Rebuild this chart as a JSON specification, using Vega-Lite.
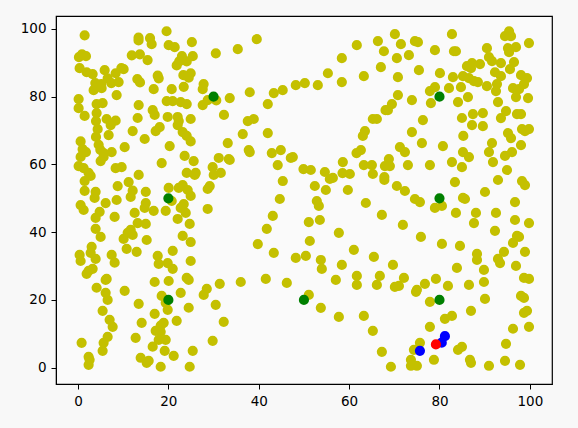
{"$schema":"https://vega.github.io/schema/vega-lite/v6.json","width":496,"height":368,"autosize":{"type":"none"},"padding":{"left":56,"top":16,"right":26,"bottom":44},"background":"#f8f8f8","view":{"fill":"#fafafa","stroke":"#000000","strokeWidth":1.2},"config":{"font":"DejaVu Sans"},
"data":{"values":[
{"x":1.47,"y":98.1,"s":"a"},{"x":13.4,"y":97.4,"s":"a"},{"x":13.4,"y":96.6,"s":"a"},{"x":15.94,"y":97.25,"s":"a"},{"x":16.3,"y":95.5,"s":"a"},{"x":19.6,"y":99.3,"s":"a"},{"x":20.07,"y":95.2,"s":"a"},{"x":21.4,"y":94.6,"s":"a"},{"x":25.2,"y":96.1,"s":"a"},{"x":30.5,"y":92.8,"s":"a"},{"x":0.21,"y":91.65,"s":"a"},{"x":0.88,"y":92.5,"s":"a"},{"x":1.76,"y":91.95,"s":"a"},{"x":11.9,"y":92.2,"s":"a"},{"x":13.7,"y":92.5,"s":"a"},{"x":15.4,"y":90.8,"s":"a"},{"x":23,"y":91.95,"s":"a"},{"x":25.4,"y":91.95,"s":"a"},{"x":24.06,"y":90.4,"s":"a"},{"x":22.4,"y":90.4,"s":"a"},{"x":21.84,"y":89.2,"s":"a"},{"x":0.36,"y":88.4,"s":"a"},{"x":1.91,"y":87.2,"s":"a"},{"x":3.24,"y":86.65,"s":"a"},{"x":5.9,"y":87.8,"s":"a"},{"x":9.59,"y":88.4,"s":"a"},{"x":10.1,"y":88.1,"s":"a"},{"x":8.33,"y":86.9,"s":"a"},{"x":6.56,"y":85.4,"s":"a"},{"x":3.83,"y":84,"s":"a"},{"x":5.16,"y":83.7,"s":"a"},{"x":7.37,"y":84,"s":"a"},{"x":8.99,"y":84.3,"s":"a"},{"x":3.46,"y":81.9,"s":"a"},{"x":5.23,"y":82.5,"s":"a"},{"x":13.13,"y":85.2,"s":"a"},{"x":13.72,"y":84.2,"s":"a"},{"x":17.64,"y":86.2,"s":"a"},{"x":17.86,"y":85.4,"s":"a"},{"x":23.32,"y":86.35,"s":"a"},{"x":24.94,"y":86.9,"s":"a"},{"x":24.5,"y":85.6,"s":"a"},{"x":16.75,"y":82.2,"s":"a"},{"x":20.74,"y":82.2,"s":"a"},{"x":23.4,"y":82.9,"s":"a"},{"x":27.8,"y":83.7,"s":"a"},{"x":27.6,"y":82.2,"s":"a"},{"x":8.55,"y":80.45,"s":"a"},{"x":0.14,"y":79.3,"s":"a"},{"x":0.14,"y":76.6,"s":"a"},{"x":1.47,"y":74.3,"s":"a"},{"x":4.12,"y":77.8,"s":"a"},{"x":5.45,"y":78.1,"s":"a"},{"x":4.12,"y":75.15,"s":"a"},{"x":13.43,"y":77.5,"s":"a"},{"x":19.63,"y":78.7,"s":"a"},{"x":20.96,"y":78.7,"s":"a"},{"x":22.73,"y":78.4,"s":"a"},{"x":24.06,"y":77.8,"s":"a"},{"x":27.6,"y":77.5,"s":"a"},{"x":28.7,"y":79,"s":"a"},{"x":30.6,"y":78.9,"s":"a"},{"x":16.53,"y":76,"s":"a"},{"x":16.97,"y":74.6,"s":"a"},{"x":32.3,"y":74.6,"s":"a"},{"x":13.2,"y":73.7,"s":"a"},{"x":19.85,"y":74,"s":"a"},{"x":22.06,"y":74,"s":"a"},{"x":24.94,"y":73.4,"s":"a"},{"x":3.98,"y":72.8,"s":"a"},{"x":6.34,"y":73.4,"s":"a"},{"x":8.33,"y":72.9,"s":"a"},{"x":7.23,"y":71.6,"s":"a"},{"x":22.3,"y":72.8,"s":"a"},{"x":22.06,"y":71.6,"s":"a"},{"x":4.35,"y":70.4,"s":"a"},{"x":12.1,"y":69.85,"s":"a"},{"x":18.08,"y":71,"s":"a"},{"x":17.19,"y":69.85,"s":"a"},{"x":23.17,"y":69.55,"s":"a"},{"x":24.06,"y":68.4,"s":"a"},{"x":6.78,"y":68.65,"s":"a"},{"x":3.98,"y":68.1,"s":"a"},{"x":14.76,"y":67.5,"s":"a"},{"x":0.58,"y":66.8,"s":"a"},{"x":24.94,"y":66.8,"s":"a"},
{"x":1.02,"y":64.5,"s":"a"},{"x":1.76,"y":63.65,"s":"a"},{"x":0.58,"y":62.2,"s":"a"},{"x":4.57,"y":65.8,"s":"a"},{"x":4.94,"y":64.3,"s":"a"},{"x":5.67,"y":63.35,"s":"a"},{"x":5.67,"y":62.2,"s":"a"},{"x":5.01,"y":61,"s":"a"},{"x":7.45,"y":63.65,"s":"a"},{"x":10.33,"y":65.1,"s":"a"},{"x":20.29,"y":65.4,"s":"a"},{"x":23.6,"y":62.5,"s":"a"},{"x":25.6,"y":61,"s":"a"},{"x":31.15,"y":61.9,"s":"a"},{"x":18.52,"y":60.4,"s":"a"},{"x":0.14,"y":59.5,"s":"a"},{"x":1.25,"y":58.9,"s":"a"},{"x":2.35,"y":57.5,"s":"a"},{"x":2.8,"y":56.6,"s":"a"},{"x":1.47,"y":55.1,"s":"a"},{"x":8.33,"y":58.9,"s":"a"},{"x":9.66,"y":59.2,"s":"a"},{"x":13.43,"y":56.9,"s":"a"},{"x":29.8,"y":59.2,"s":"a"},{"x":24.06,"y":57.5,"s":"a"},{"x":26.05,"y":57.5,"s":"a"},{"x":25.83,"y":56.9,"s":"a"},{"x":30.04,"y":56.9,"s":"a"},{"x":31.6,"y":57.5,"s":"a"},{"x":11.21,"y":54.8,"s":"a"},{"x":8.78,"y":53.6,"s":"a"},{"x":1.47,"y":52.2,"s":"a"},{"x":3.9,"y":51.9,"s":"a"},{"x":3.68,"y":50.1,"s":"a"},{"x":12.1,"y":52.25,"s":"a"},{"x":11.66,"y":50.4,"s":"a"},{"x":15,"y":51.9,"s":"a"},{"x":20.07,"y":53.05,"s":"a"},{"x":22.3,"y":53.05,"s":"a"},{"x":23.17,"y":53.9,"s":"a"},{"x":24.28,"y":52.45,"s":"a"},{"x":24.94,"y":50.7,"s":"a"},{"x":29.15,"y":53.6,"s":"a"},{"x":28.7,"y":52.75,"s":"a"},{"x":8.55,"y":49.5,"s":"a"},{"x":6.12,"y":48.6,"s":"a"},{"x":0.58,"y":48,"s":"a"},{"x":1.25,"y":46.55,"s":"a"},{"x":15,"y":48.6,"s":"a"},{"x":14.76,"y":47.15,"s":"a"},{"x":16.75,"y":46.3,"s":"a"},{"x":20.74,"y":49.2,"s":"a"},{"x":19.41,"y":46.3,"s":"a"},{"x":23.4,"y":48.3,"s":"a"},{"x":22.73,"y":47.15,"s":"a"},{"x":23.84,"y":45.7,"s":"a"},{"x":28.7,"y":46.85,"s":"a"},{"x":4.79,"y":46,"s":"a"},{"x":3.9,"y":44.2,"s":"a"},{"x":8.11,"y":44.5,"s":"a"},{"x":12.54,"y":45.7,"s":"a"},{"x":22.06,"y":43.9,"s":"a"},{"x":24.72,"y":42.45,"s":"a"},{"x":13.2,"y":42.7,"s":"a"},{"x":15,"y":42.45,"s":"a"},{"x":3.9,"y":41,"s":"a"},{"x":5.01,"y":38.6,"s":"a"},{"x":11.66,"y":40.7,"s":"a"},{"x":10.99,"y":39.8,"s":"a"},{"x":12.1,"y":39.2,"s":"a"},{"x":10.1,"y":38,"s":"a"},{"x":15.2,"y":37.7,"s":"a"},{"x":23.17,"y":38.9,"s":"a"},{"x":24.94,"y":37.1,"s":"a"},{"x":3.02,"y":35.7,"s":"a"},{"x":2.8,"y":33.9,"s":"a"},{"x":0.36,"y":33.3,"s":"a"},{"x":0.58,"y":31.5,"s":"a"},{"x":3.9,"y":32.1,"s":"a"},{"x":7.45,"y":33.3,"s":"a"},{"x":8.11,"y":31,"s":"a"},{"x":10.77,"y":35.1,"s":"a"},{"x":12.98,"y":34.2,"s":"a"},{"x":20.96,"y":34.5,"s":"a"},{"x":17.64,"y":33,"s":"a"},
{"x":24.94,"y":31.5,"s":"a"},{"x":17.86,"y":30.64,"s":"a"},{"x":19.85,"y":30.9,"s":"a"},{"x":20.96,"y":29.2,"s":"a"},{"x":3.24,"y":29.2,"s":"a"},{"x":2.35,"y":28.6,"s":"a"},{"x":1.91,"y":27.7,"s":"a"},{"x":6.34,"y":26.2,"s":"a"},{"x":6.12,"y":25.9,"s":"a"},{"x":4.12,"y":23.6,"s":"a"},{"x":10.33,"y":22.7,"s":"a"},{"x":16.97,"y":25.3,"s":"a"},{"x":20.07,"y":25.6,"s":"a"},{"x":24.06,"y":26.5,"s":"a"},{"x":24.5,"y":25.9,"s":"a"},{"x":31.37,"y":24.75,"s":"a"},{"x":28.5,"y":23.3,"s":"a"},{"x":27.82,"y":21.5,"s":"a"},{"x":22.73,"y":22.1,"s":"a"},{"x":18.52,"y":21.2,"s":"a"},{"x":6.12,"y":22.1,"s":"a"},{"x":6.56,"y":20,"s":"a"},{"x":19.41,"y":19.15,"s":"a"},{"x":19.85,"y":17.1,"s":"a"},{"x":13.43,"y":18.85,"s":"a"},{"x":24.5,"y":17.7,"s":"a"},{"x":30.48,"y":18.56,"s":"a"},{"x":5.45,"y":16.8,"s":"a"},{"x":16.97,"y":15.9,"s":"a"},{"x":7,"y":14.15,"s":"a"},{"x":7.67,"y":12.07,"s":"a"},{"x":14.09,"y":13.25,"s":"a"},{"x":21.84,"y":13.85,"s":"a"},{"x":18.96,"y":13.25,"s":"a"},{"x":18.3,"y":12.4,"s":"a"},{"x":17.19,"y":10.9,"s":"a"},{"x":18.3,"y":10.6,"s":"a"},{"x":32.25,"y":13.55,"s":"a"},{"x":12.76,"y":8.83,"s":"a"},{"x":6.56,"y":9.13,"s":"a"},{"x":5.67,"y":7.36,"s":"a"},{"x":0.8,"y":7.36,"s":"a"},{"x":5.45,"y":5,"s":"a"},{"x":17.86,"y":8.24,"s":"a"},{"x":19.41,"y":8.24,"s":"a"},{"x":16.53,"y":6.2,"s":"a"},{"x":19.19,"y":5,"s":"a"},{"x":21.18,"y":3.5,"s":"a"},{"x":25.39,"y":5,"s":"a"},{"x":29.8,"y":7.95,"s":"a"},{"x":2.35,"y":3.23,"s":"a"},{"x":2.57,"y":2.35,"s":"a"},{"x":2.35,"y":0.87,"s":"a"},{"x":13.87,"y":2.94,"s":"a"},{"x":15.64,"y":2.05,"s":"a"},{"x":15.2,"y":1.46,"s":"a"},{"x":18.3,"y":0.29,"s":"a"},{"x":24.72,"y":0.29,"s":"a"},
{"x":39.56,"y":96.96,"s":"a"},{"x":35.36,"y":94,"s":"a"},{"x":61.7,"y":95.2,"s":"a"},{"x":66.37,"y":96.4,"s":"a"},{"x":67.7,"y":93.4,"s":"a"},{"x":58.39,"y":91.36,"s":"a"},{"x":67.03,"y":88.7,"s":"a"},{"x":55.3,"y":86.9,"s":"a"},{"x":63.26,"y":86.05,"s":"a"},{"x":58.39,"y":84.3,"s":"a"},{"x":53.07,"y":83.4,"s":"a"},{"x":50.2,"y":84,"s":"a"},{"x":48.2,"y":83.4,"s":"a"},{"x":45.3,"y":81.9,"s":"a"},{"x":43.33,"y":81.05,"s":"a"},{"x":38.01,"y":81.3,"s":"a"},{"x":33.58,"y":79.57,"s":"a"},{"x":42,"y":77.8,"s":"a"},{"x":37.57,"y":72.8,"s":"a"},{"x":38.9,"y":73.4,"s":"a"},{"x":65.25,"y":73.4,"s":"a"},{"x":66.14,"y":73.4,"s":"a"},{"x":68.06,"y":76,"s":"a"},{"x":36.46,"y":68.96,"s":"a"},{"x":42,"y":69.26,"s":"a"},{"x":63.5,"y":69.85,"s":"a"},{"x":63.04,"y":68.4,"s":"a"},
{"x":33.14,"y":66.3,"s":"a"},{"x":37.79,"y":64.24,"s":"a"},{"x":38.01,"y":63.65,"s":"a"},{"x":33.36,"y":61.6,"s":"a"},{"x":33.58,"y":61.3,"s":"a"},{"x":42.89,"y":63.36,"s":"a"},{"x":44.88,"y":64.24,"s":"a"},{"x":47.1,"y":61.9,"s":"a"},{"x":47.54,"y":62.18,"s":"a"},{"x":44.2,"y":59.8,"s":"a"},{"x":58.61,"y":60.7,"s":"a"},{"x":61.64,"y":63.36,"s":"a"},{"x":62.6,"y":64.24,"s":"a"},{"x":63.26,"y":59.8,"s":"a"},{"x":65.04,"y":59.8,"s":"a"},{"x":49.9,"y":58.64,"s":"a"},{"x":51.52,"y":58.35,"s":"a"},{"x":54.63,"y":57.76,"s":"a"},{"x":58.54,"y":57.46,"s":"a"},{"x":60.16,"y":57.17,"s":"a"},{"x":65.25,"y":57.17,"s":"a"},{"x":55.73,"y":55.7,"s":"a"},{"x":56.4,"y":56,"s":"a"},{"x":67.8,"y":56.28,"s":"a"},{"x":67.8,"y":55.4,"s":"a"},{"x":45.32,"y":55.1,"s":"a"},{"x":52.41,"y":53.63,"s":"a"},{"x":54.85,"y":52.45,"s":"a"},{"x":59.72,"y":52.45,"s":"a"},{"x":52.85,"y":49.2,"s":"a"},{"x":53.3,"y":47.74,"s":"a"},{"x":44.66,"y":49.8,"s":"a"},{"x":63.7,"y":48.62,"s":"a"},{"x":43.11,"y":44.8,"s":"a"},{"x":67.25,"y":45.1,"s":"a"},{"x":51.08,"y":43,"s":"a"},{"x":53.52,"y":43.6,"s":"a"},{"x":41.78,"y":41,"s":"a"},{"x":57.73,"y":39.8,"s":"a"},{"x":39.79,"y":36.5,"s":"a"},{"x":51.3,"y":37.4,"s":"a"},{"x":61.05,"y":34.8,"s":"a"},{"x":43.33,"y":33.9,"s":"a"},{"x":48.2,"y":32.4,"s":"a"},{"x":50.42,"y":33,"s":"a"},{"x":53.74,"y":31.8,"s":"a"},{"x":65.48,"y":32.7,"s":"a"},
{"x":53.96,"y":29.17,"s":"a"},{"x":58.39,"y":30.35,"s":"a"},{"x":36.02,"y":25.3,"s":"a"},{"x":41.56,"y":26.2,"s":"a"},{"x":46.21,"y":25.04,"s":"a"},{"x":57.06,"y":25.9,"s":"a"},{"x":61.71,"y":27.1,"s":"a"},{"x":61.71,"y":24.45,"s":"a"},{"x":66.8,"y":27.1,"s":"a"},{"x":66.14,"y":24.45,"s":"a"},{"x":51.08,"y":21.5,"s":"a"},{"x":53.74,"y":17.67,"s":"a"},{"x":57.73,"y":15,"s":"a"},{"x":63.26,"y":15.3,"s":"a"},{"x":65.25,"y":10.9,"s":"a"},{"x":67.25,"y":4.7,"s":"a"},
{"x":70.13,"y":98.43,"s":"a"},{"x":82.76,"y":98.43,"s":"a"},{"x":74.56,"y":96.37,"s":"a"},{"x":75.23,"y":96.07,"s":"a"},{"x":71.46,"y":95.5,"s":"a"},{"x":78.99,"y":93.7,"s":"a"},{"x":83.2,"y":93.4,"s":"a"},{"x":83.64,"y":93.4,"s":"a"},{"x":70.57,"y":91.36,"s":"a"},{"x":73.23,"y":92.24,"s":"a"},{"x":75.45,"y":87.8,"s":"a"},{"x":70.8,"y":85.76,"s":"a"},{"x":80.1,"y":86.94,"s":"a"},{"x":82.98,"y":85.76,"s":"a"},{"x":79,"y":82.8,"s":"a"},{"x":77.88,"y":81.64,"s":"a"},{"x":82.1,"y":82.5,"s":"a"},{"x":84.75,"y":82.8,"s":"a"},{"x":85.2,"y":86.05,"s":"a"},{"x":86.52,"y":85.47,"s":"a"},{"x":87.63,"y":84.58,"s":"a"},{"x":88.5,"y":84.3,"s":"a"},{"x":86.08,"y":89,"s":"a"},{"x":87.2,"y":89.9,"s":"a"},{"x":86.97,"y":88.4,"s":"a"},{"x":88.96,"y":89.6,"s":"a"},{"x":90.5,"y":94.3,"s":"a"},{"x":90.95,"y":91.65,"s":"a"},{"x":91.62,"y":90.47,"s":"a"},{"x":93.6,"y":89.9,"s":"a"},{"x":92.28,"y":87.2,"s":"a"},{"x":93.6,"y":86.05,"s":"a"},{"x":96.49,"y":90.2,"s":"a"},{"x":95.6,"y":88.1,"s":"a"},{"x":94.5,"y":97.84,"s":"a"},{"x":95.4,"y":99.3,"s":"a"},{"x":95.83,"y":97.84,"s":"a"},{"x":95.16,"y":94.3,"s":"a"},{"x":95.4,"y":93.13,"s":"a"},{"x":96.93,"y":94.6,"s":"a"},{"x":99.8,"y":95.8,"s":"a"},{"x":98.04,"y":86.35,"s":"a"},{"x":99.37,"y":85.47,"s":"a"},{"x":98.7,"y":83.7,"s":"a"},{"x":96.27,"y":82.5,"s":"a"},{"x":97.6,"y":82.2,"s":"a"},{"x":96.93,"y":79.87,"s":"a"},{"x":99.6,"y":79.57,"s":"a"},{"x":90.5,"y":83.1,"s":"a"},{"x":92.72,"y":83.7,"s":"a"},{"x":92.5,"y":81.64,"s":"a"},{"x":92.95,"y":78.4,"s":"a"},{"x":86.3,"y":79.87,"s":"a"},{"x":84.1,"y":78.4,"s":"a"},{"x":78.1,"y":78.1,"s":"a"},{"x":70.8,"y":80.45,"s":"a"},{"x":73.9,"y":79,"s":"a"},{"x":69.47,"y":77.8,"s":"a"},{"x":68.58,"y":76,"s":"a"},{"x":76.33,"y":73.1,"s":"a"},{"x":84.97,"y":73.7,"s":"a"},{"x":87.4,"y":74.86,"s":"a"},{"x":89.6,"y":75.15,"s":"a"},{"x":87.2,"y":71.6,"s":"a"},{"x":89.6,"y":71.3,"s":"a"},{"x":94.72,"y":75.74,"s":"a"},{"x":93.6,"y":73.68,"s":"a"},{"x":97.15,"y":74.86,"s":"a"},{"x":98.04,"y":74.86,"s":"a"},{"x":73.9,"y":69.55,"s":"a"},{"x":85.27,"y":68.4,"s":"a"},{"x":95.16,"y":69.25,"s":"a"},{"x":95.83,"y":67.78,"s":"a"},{"x":98.26,"y":70.44,"s":"a"},{"x":98.92,"y":69.85,"s":"a"},{"x":99.8,"y":70.44,"s":"a"},
{"x":76.11,"y":66.3,"s":"a"},{"x":80.76,"y":65.4,"s":"a"},{"x":71.24,"y":65.12,"s":"a"},{"x":72.35,"y":63.65,"s":"a"},{"x":85.2,"y":63.65,"s":"a"},{"x":86.52,"y":62.18,"s":"a"},{"x":91.62,"y":66.3,"s":"a"},{"x":98.04,"y":65.7,"s":"a"},{"x":90.95,"y":63.65,"s":"a"},{"x":96.05,"y":63.65,"s":"a"},{"x":94.5,"y":62.5,"s":"a"},{"x":91.84,"y":60.7,"s":"a"},{"x":68.8,"y":61.6,"s":"a"},{"x":67.92,"y":59.5,"s":"a"},{"x":69.02,"y":59.5,"s":"a"},{"x":73.01,"y":59.8,"s":"a"},{"x":77.88,"y":59.8,"s":"a"},{"x":82.76,"y":60.7,"s":"a"},{"x":84.97,"y":59.2,"s":"a"},{"x":94.94,"y":58.35,"s":"a"},{"x":92.95,"y":55.4,"s":"a"},{"x":83.42,"y":54.8,"s":"a"},{"x":98.26,"y":55.1,"s":"a"},{"x":98.92,"y":53.9,"s":"a"},{"x":70.57,"y":53.63,"s":"a"},{"x":72.35,"y":52.16,"s":"a"},{"x":90.07,"y":51.86,"s":"a"},{"x":74.56,"y":49.8,"s":"a"},{"x":75.67,"y":48.9,"s":"a"},{"x":85.2,"y":50.1,"s":"a"},{"x":85.64,"y":49.8,"s":"a"},{"x":80.54,"y":47.74,"s":"a"},{"x":78.99,"y":47.15,"s":"a"},{"x":96.71,"y":48.9,"s":"a"},{"x":83.64,"y":45.7,"s":"a"},{"x":88.07,"y":45.7,"s":"a"},{"x":92.5,"y":45.7,"s":"a"},{"x":96.71,"y":43.6,"s":"a"},{"x":87.63,"y":42.7,"s":"a"},{"x":99.81,"y":42.7,"s":"a"},{"x":71.9,"y":42.14,"s":"a"},{"x":92.28,"y":40.4,"s":"a"},{"x":75.89,"y":38.6,"s":"a"},{"x":97.15,"y":38.9,"s":"a"},{"x":97.6,"y":38.6,"s":"a"},{"x":96.27,"y":36.83,"s":"a"},{"x":80.54,"y":36.54,"s":"a"},{"x":84.53,"y":35.95,"s":"a"},{"x":88.3,"y":33.6,"s":"a"},{"x":94.27,"y":34.2,"s":"a"},{"x":98.92,"y":34.2,"s":"a"},{"x":88.3,"y":31.8,"s":"a"},{"x":92.95,"y":32.1,"s":"a"},{"x":93.4,"y":30.9,"s":"a"},
{"x":69.7,"y":30.35,"s":"a"},{"x":72.13,"y":26.5,"s":"a"},{"x":70.13,"y":23.86,"s":"a"},{"x":71.02,"y":24.15,"s":"a"},{"x":75,"y":23,"s":"a"},{"x":74.8,"y":22.4,"s":"a"},{"x":76.78,"y":24.75,"s":"a"},{"x":79.21,"y":26.2,"s":"a"},{"x":81.87,"y":24.15,"s":"a"},{"x":83.86,"y":29.46,"s":"a"},{"x":89.84,"y":28.87,"s":"a"},{"x":96.93,"y":30.05,"s":"a"},{"x":98.7,"y":26.5,"s":"a"},{"x":99.81,"y":26.2,"s":"a"},{"x":86.52,"y":24.45,"s":"a"},{"x":89.84,"y":25.3,"s":"a"},{"x":90.07,"y":20.3,"s":"a"},{"x":98.04,"y":21.2,"s":"a"},{"x":98.7,"y":20.6,"s":"a"},{"x":77.88,"y":19.44,"s":"a"},{"x":86.97,"y":16.8,"s":"a"},{"x":99.37,"y":16.8,"s":"a"},{"x":98.7,"y":16.2,"s":"a"},{"x":82.76,"y":15.3,"s":"a"},{"x":81.2,"y":14.43,"s":"a"},{"x":77.88,"y":12.07,"s":"a"},{"x":96.27,"y":11.5,"s":"a"},{"x":99.81,"y":12.07,"s":"a"},{"x":94.72,"y":7.06,"s":"a"},{"x":84.97,"y":6.18,"s":"a"},{"x":84.1,"y":5.3,"s":"a"},{"x":75.67,"y":7.36,"s":"a"},{"x":74.34,"y":5.3,"s":"a"},{"x":73.68,"y":2.35,"s":"a"},{"x":73.68,"y":0.58,"s":"a"},{"x":75,"y":0.58,"s":"a"},{"x":69.25,"y":0.29,"s":"a"},{"x":78.77,"y":2.35,"s":"a"},{"x":86.74,"y":2.35,"s":"a"},{"x":86.97,"y":1.46,"s":"a"},{"x":90.95,"y":0.58,"s":"a"},{"x":94.5,"y":2.05,"s":"a"},{"x":97.82,"y":0.87,"s":"a"},
{"x":20,"y":20,"s":"g"},{"x":20,"y":50,"s":"g"},{"x":30,"y":80,"s":"g"},{"x":50,"y":20,"s":"g"},{"x":80,"y":20,"s":"g"},{"x":80,"y":50,"s":"g"},{"x":80,"y":80,"s":"g"},
{"x":75.67,"y":5,"s":"b"},{"x":80.5,"y":7.4,"s":"b"},{"x":81.2,"y":9.3,"s":"b"},{"x":79.21,"y":6.87,"s":"r"}
]},
"mark":{"type":"point","filled":true,"opacity":1,"size":104,"strokeWidth":0,"clip":false},
"encoding":{
"x":{"field":"x","type":"quantitative","scale":{"domain":[-4.87,104.9],"nice":false,"zero":false},"axis":{"title":null,"grid":false,"values":[0,20,40,60,80,100],"domainColor":"#000000","domainWidth":1,"tickColor":"#000000","tickSize":5,"tickWidth":1,"labelColor":"#000000","labelFontSize":13.5,"labelFont":"DejaVu Sans","labelPadding":5,"labelFlush":false}},
"y":{"field":"y","type":"quantitative","scale":{"domain":[-4.8,103.8],"nice":false,"zero":false},"axis":{"title":null,"grid":false,"values":[0,20,40,60,80,100],"domainColor":"#000000","domainWidth":1,"tickColor":"#000000","tickSize":5,"tickWidth":1,"labelColor":"#000000","labelFontSize":13.5,"labelFont":"DejaVu Sans","labelPadding":5}},
"color":{"field":"s","type":"nominal","scale":{"domain":["a","g","b","r"],"range":["#c4c000","#008000","#0000ff","#ff0000"]},"legend":null}
}}
